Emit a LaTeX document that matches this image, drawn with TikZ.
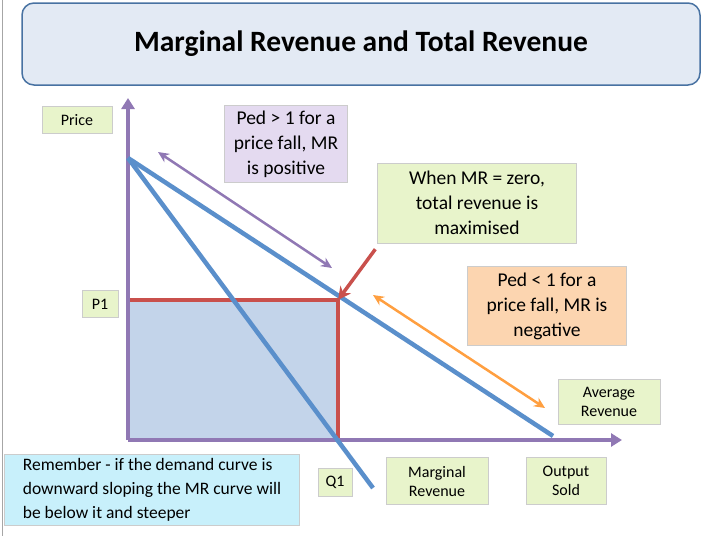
\documentclass[tikz,border=0pt]{standalone}
\usepackage{fontspec}
\setmainfont{Carlito}
\usetikzlibrary{arrows.meta}
\definecolor{grn}{HTML}{E8F4CB}
\definecolor{axcol}{HTML}{9078B4}
\definecolor{blu}{HTML}{5A8FCB}
\definecolor{rd}{HTML}{C9504C}
\definecolor{area}{HTML}{C3D4EA}
\definecolor{ttl}{HTML}{E3EAF4}
\definecolor{lil}{HTML}{E4DAF0}
\definecolor{org}{HTML}{FCD5B0}
\definecolor{cyn}{HTML}{C8F0FB}
\tikzset{
  lbl/.style={draw=black!20,fill=#1,inner sep=2pt,align=center,font=\fontsize{16}{19}\selectfont},
  note/.style={draw=black!20,fill=#1,inner sep=3pt,align=center,font=\fontsize{19.5}{25}\selectfont},
  axis/.style={line width=4.5pt,draw=axcol,-{Triangle[length=11pt,width=13pt]}},
  curve/.style={line width=4.5pt,draw=blu},
  pnt/.style={line width=2.5pt,{Stealth[length=11pt,width=10pt]}-{Stealth[length=11pt,width=10pt]}}
}
\begin{document}
\begin{tikzpicture}[x=1pt,y=-1pt]
\useasboundingbox (0,0) rectangle (717,536);
\draw[black!35,line width=1pt] (2,0) -- (2,536);
% title
\node[draw=blu!80!black,line width=1.5pt,fill=ttl,rounded corners=12pt,
  minimum width=678pt,minimum height=82pt,font=\fontsize{29.5}{33}\selectfont\bfseries] (title) at (361,44) {Marginal Revenue and Total Revenue};
% revenue area
\fill[area] (130,302) rectangle (337,438);
\coordinate (o) at (128,440);
\coordinate (p1) at (128,300);
\coordinate (e) at (338,300);
\coordinate (q1) at (338,440);
\coordinate (top) at (128,158);
\draw[rd,line width=4.5pt] (p1) -- (e) -- (q1);
\draw[axis] (o) -- (128,98);
\draw[axis] (o) -- (622,440);
\coordinate (arend) at (553,436);
\coordinate (mrend) at (373,488);
\draw[curve] (top) -- (arend);
\draw[curve] (top) -- (mrend);
% labels
\node[lbl=grn,minimum width=70pt,minimum height=27pt] (price) at (77,120) {Price};
\node[lbl=grn,minimum width=36pt,minimum height=27pt] (p1l) at (100,304) {P1};
\node[lbl=grn,minimum width=34pt,minimum height=28pt] (q1l) at (335,482) {Q1};
\node[lbl=grn,minimum width=102pt,minimum height=47pt] (mr) at (437,481) {Marginal\\Revenue};
\node[lbl=grn,minimum width=80pt,minimum height=47pt] (out) at (566,481) {Output\\Sold};
\node[lbl=grn,minimum width=102pt,minimum height=45pt] (ar) at (609,402) {Average\\Revenue};
\node[draw=black!20,fill=cyn,minimum width=295pt,minimum height=71pt,align=left,
  font=\fontsize{17.5}{24}\selectfont,inner sep=4pt] (rem) at (152,490) {Remember - if the demand curve is\\downward sloping the MR curve will\\be below it and steeper};
\node[note=lil,minimum width=123pt,minimum height=77pt] (elas) at (286,144) {Ped > 1 for a\\price fall, MR\\is positive};
\node[note=grn,minimum width=199pt,minimum height=80pt] (zero) at (477,203) {When MR = zero,\\total revenue is\\maximised};
\node[note=org,minimum width=159pt,minimum height=79pt] (inel) at (547,306) {Ped < 1 for a\\price fall, MR is\\negative};
% pointers
\coordinate (a1) at (158,152);
\coordinate (a2) at (332,268);
\coordinate (b1) at (373,295);
\coordinate (b2) at (545,408);
\draw[pnt,axcol] (a1) -- (a2);
\draw[pnt,orange!75!white] (b1) -- (b2);
\draw[rd,line width=3.5pt,-{Stealth[length=13pt,width=13pt]}] (zero.south west) ++(-2,6) -- (e);
\end{tikzpicture}
\end{document}
